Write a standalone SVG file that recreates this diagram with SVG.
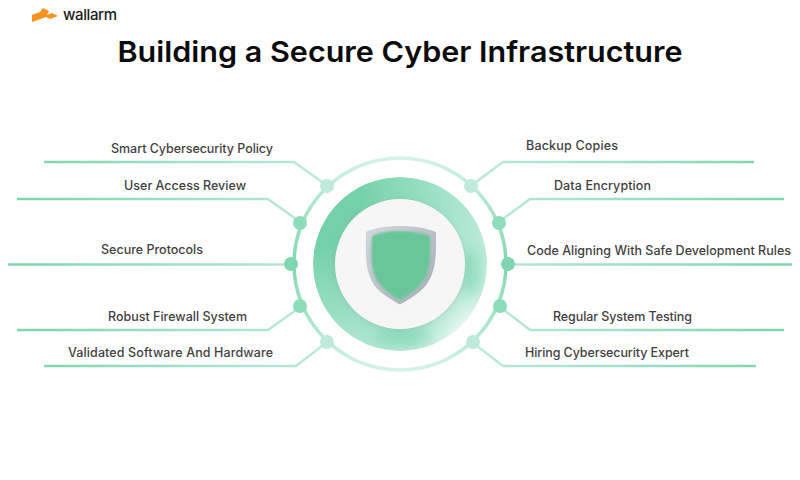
<svg xmlns="http://www.w3.org/2000/svg" width="800" height="480" viewBox="0 0 800 480">
<style>
text{font-family:"Inter","Liberation Sans",sans-serif}
.l{font-size:12.5px;font-weight:500;fill:#3f3f3f}
.c{fill:none;stroke-width:2.4;stroke-linejoin:round}
.n{fill:#8fdcbb}
</style>
<defs>
<linearGradient id="lf" gradientUnits="userSpaceOnUse" x1="0" x2="330" y1="0" y2="0"><stop offset="0.1" stop-color="#7fd6b2"/><stop offset="1" stop-color="#bfeada"/></linearGradient>
<linearGradient id="rf" gradientUnits="userSpaceOnUse" x1="800" x2="470" y1="0" y2="0"><stop offset="0.1" stop-color="#7fd6b2"/><stop offset="1" stop-color="#bfeada"/></linearGradient>
<linearGradient id="ring" x1="0.5" y1="0" x2="0.5" y2="1"><stop offset="0" stop-color="#d4f2e6"/><stop offset="0.25" stop-color="#a8e4cb"/><stop offset="0.5" stop-color="#80d7b3"/><stop offset="0.75" stop-color="#a8e4cb"/><stop offset="1" stop-color="#d4f2e6"/></linearGradient>
<radialGradient id="disk" gradientUnits="userSpaceOnUse" cx="325" cy="210" r="175"><stop offset="0.2" stop-color="#74d1a9"/><stop offset="0.75" stop-color="#a8e5cd"/><stop offset="1" stop-color="#c4eedd"/></radialGradient>
<linearGradient id="shieldEdge" x1="0" y1="0" x2="1" y2="1"><stop offset="0" stop-color="#d3d8de"/><stop offset="1" stop-color="#a4acb6"/></linearGradient>
<clipPath id="dc"><circle cx="400" cy="264" r="87"/></clipPath>
<clipPath id="dc2"><circle cx="400" cy="264" r="90"/></clipPath>
<filter id="b6" x="-80%" y="-80%" width="260%" height="260%"><feGaussianBlur stdDeviation="7"/></filter>
<filter id="b12" x="-80%" y="-80%" width="260%" height="260%"><feGaussianBlur stdDeviation="13"/></filter>
<filter id="b1" x="-20%" y="-20%" width="140%" height="140%"><feGaussianBlur stdDeviation="1"/></filter>
<filter id="b0" x="-20%" y="-20%" width="140%" height="140%"><feGaussianBlur stdDeviation="0.4"/></filter>
<filter id="sh" x="-30%" y="-30%" width="160%" height="160%"><feDropShadow dx="0" dy="1" stdDeviation="3" flood-color="#8a9aa0" flood-opacity=".3"/></filter>
</defs>
<rect width="800" height="480" fill="#fff"/>
<g id="logo">
<path d="M32,15 L40,12 L43,8 L49,11 L47,15 L52,13 L58,16 L50,19 L46,17 L32,22Z" fill="#f7921e"/>
<text x="63" y="20" font-size="15" font-weight="500" fill="#1a1a1a" textLength="54">wallarm</text>
</g>
<text id="title" x="400" y="62" text-anchor="middle" font-size="29" font-weight="600" fill="#0b0b0b" textLength="565" lengthAdjust="spacingAndGlyphs">Building a Secure Cyber Infrastructure</text>
<g id="hub">
<g clip-path="url(#dc)">
<circle cx="400" cy="264" r="87" fill="url(#disk)"/>
<ellipse cx="402" cy="336" rx="28" ry="9" fill="#7fd6b2" opacity=".8" filter="url(#b6)"/>
<ellipse cx="470" cy="272" rx="9" ry="24" fill="#7fd6b2" opacity=".75" filter="url(#b6)"/>
</g>
<g clip-path="url(#dc2)"><ellipse cx="486" cy="348" rx="44" ry="36" fill="#fff" filter="url(#b12)" transform="rotate(-45 486 348)"/></g>
<circle cx="400" cy="264" r="106" fill="none" stroke="url(#ring)" stroke-width="3.500"/>
<circle cx="400" cy="264" r="65" fill="#f6f6f7" filter="url(#sh)"/>
</g>
<g id="connectors">
<polyline class="c" stroke="url(#lf)" points="44,162 294,162 322,182"/>
<polyline class="c" stroke="url(#lf)" points="17,199 268,199 296,219"/>
<polyline class="c" stroke="url(#lf)" points="8,264.500 287,264.500"/>
<polyline class="c" stroke="url(#lf)" points="17,330 268,330 296,310"/>
<polyline class="c" stroke="url(#lf)" points="44,366 296,366 322,346"/>
<polyline class="c" stroke="url(#rf)" points="754,162 503,162 476,182"/>
<polyline class="c" stroke="url(#rf)" points="784,199 530,199 503,219"/>
<polyline class="c" stroke="url(#rf)" points="792,264.500 512,264.500"/>
<polyline class="c" stroke="url(#rf)" points="784,330 530,330 504,310"/>
<polyline class="c" stroke="url(#rf)" points="756,366 503,366 477,346"/>
</g>
<g id="shield">
<path d="M400,226 C414,226 426,228 436,232 C436,254 437,268 427,284 C420,293 410,299 400,304.500 C390,299 380,293 374,285 C364,268 366,254 366,232 C374,228 386,226 400,226Z" fill="url(#shieldEdge)" filter="url(#b0)"/>
<path d="M400,231 C412,231 423,233 430,236 C431,254 431,270 423,281 C416,290 408,296 400,300 C392,296 384,290 378,282 C370,270 371,254 372,236 C379,233 388,231 400,231Z" fill="#6ac699" filter="url(#b1)"/>
</g>
<g id="node-smart-policy"><circle class="n" cx="327" cy="186" r="7" style="fill:#bfeadb"/><text class="l" x="111" y="153" textLength="162">Smart Cybersecurity Policy</text></g>
<g id="node-user-access"><circle class="n" cx="300" cy="223" r="7"/><text class="l" x="124" y="190" textLength="122">User Access Review</text></g>
<g id="node-secure-protocols"><circle class="n" cx="291" cy="264" r="7" style="fill:#7fd6b2"/><text class="l" x="101" y="254" textLength="102">Secure Protocols</text></g>
<g id="node-firewall"><circle class="n" cx="300" cy="306" r="7"/><text class="l" x="108" y="321" textLength="139">Robust Firewall System</text></g>
<g id="node-validated"><circle class="n" cx="327" cy="342" r="7" style="fill:#bfeadb"/><text class="l" x="68" y="357" textLength="205">Validated Software And Hardware</text></g>
<g id="node-backup"><circle class="n" cx="471" cy="186" r="7" style="fill:#bfeadb"/><text class="l" x="526" y="150" textLength="92">Backup Copies</text></g>
<g id="node-encryption"><circle class="n" cx="499" cy="223" r="7"/><text class="l" x="554" y="190" textLength="97">Data Encryption</text></g>
<g id="node-code"><circle class="n" cx="508" cy="264" r="7" style="fill:#7fd6b2"/><text class="l" x="527" y="255" textLength="264">Code Aligning With Safe Development Rules</text></g>
<g id="node-testing"><circle class="n" cx="500" cy="306" r="7"/><text class="l" x="553" y="321" textLength="139">Regular System Testing</text></g>
<g id="node-hiring"><circle class="n" cx="473" cy="342" r="7" style="fill:#bfeadb"/><text class="l" x="525" y="357" textLength="164">Hiring Cybersecurity Expert</text></g>
</svg>
